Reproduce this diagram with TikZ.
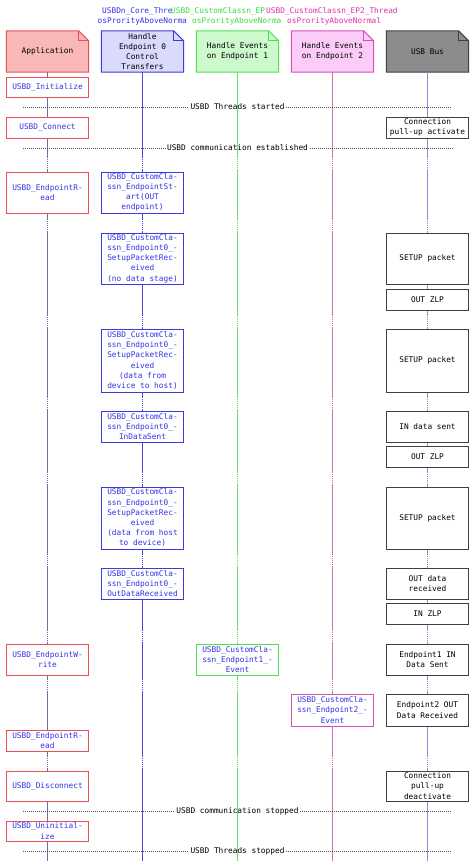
\documentclass[tikz,border=0pt]{standalone}
\usepackage{fontspec}
\newfontfamily\mscfont{DejaVu Sans Mono}
\usetikzlibrary{calc}
\pgfdeclarelayer{background}
\pgfsetlayers{background,main}
\definecolor{appline}{RGB}{230,80,90}
\definecolor{appfill}{RGB}{249,183,183}
\definecolor{ezline}{RGB}{60,60,220}
\definecolor{ezfill}{RGB}{218,218,252}
\definecolor{eoline}{RGB}{80,225,80}
\definecolor{eofill}{RGB}{204,250,204}
\definecolor{etline}{RGB}{215,80,180}
\definecolor{etfill}{RGB}{252,204,248}
\definecolor{usbline}{RGB}{64,64,64}
\definecolor{usbfill}{RGB}{140,140,140}
\definecolor{llapp}{RGB}{125,105,160}
\definecolor{llez}{RGB}{70,70,215}
\definecolor{lleo}{RGB}{100,225,100}
\definecolor{llet}{RGB}{210,110,175}
\definecolor{llusb}{RGB}{160,130,210}
\definecolor{evtext}{RGB}{50,50,230}
\definecolor{ttlblue}{RGB}{50,50,235}
\definecolor{ttlgreen}{RGB}{60,220,60}
\definecolor{ttlmag}{RGB}{220,50,170}
\definecolor{divline}{RGB}{80,80,80}
\newcommand\notebg[3]{%
  \filldraw[draw=#2, fill=#3, line width=1pt] (#1.north west) -- ($(#1.north east)+(-10,0)$) -- ($(#1.north east)+(0,10)$) -- (#1.south east) -- (#1.south west) -- cycle;
  \draw[#2, line width=0.8pt] ($(#1.north east)+(-10,0)$) -- ++(0,10) -- ++(10,0);}
\begin{document}
\begin{tikzpicture}[x=1pt,y=-1pt,
  every node/.style={font=\mscfont\fontsize{7.8}{10.2}\selectfont, inner sep=0pt},
  entity/.style={minimum width=82pt, minimum height=41pt, align=center},
  evbox/.style={draw=#1, fill=white, line width=0.9pt, minimum width=82pt, align=center, text=evtext},
  busbox/.style={draw=usbline, fill=white, line width=0.9pt, minimum width=82pt, align=center, text=black},
  lifeline/.style={line width=1pt},
  gapline/.style={line width=1pt, dash pattern=on 1pt off 1pt},
  divider/.style={draw=divline, line width=0.8pt, dash pattern=on 1pt off 1pt},
  divlabel/.style={inner xsep=1.5pt, text=black},
  title/.style={anchor=west}
]
\useasboundingbox (0,0) rectangle (474,861);
% titles
\node[title, text=ttlblue] (t1) at (102,11) {USBDn\_Core\_Thre};
\node[title, text=ttlgreen] (t2) at (171,11) {USBD\_CustomClassn\_EP};
\node[title, text=ttlmag] (t3) at (266,11) {USBD\_CustomClassn\_EP2\_Thread};
\node[title, text=ttlblue] (t4) at (97.5,21) {osProrityAboveNorma};
\node[title, text=ttlgreen] (t5) at (192,21) {osProrityAboveNorma};
\node[title, text=ttlmag] (t6) at (287,21) {osProrityAboveNormal};
% entities
\node[entity] (hA) at (47.5,51.5) {Application};
\node[entity] (hB) at (142.5,51.5) {Handle\\Endpoint 0\\Control\\Transfers};
\node[entity] (hC) at (237.5,51.5) {Handle Events\\on Endpoint 1};
\node[entity] (hD) at (332.5,51.5) {Handle Events\\on Endpoint 2};
\node[entity] (hE) at (427.5,51.5) {USB Bus};
\coordinate (bA) at (47.5,861);
\coordinate (bB) at (142.5,861);
\coordinate (bC) at (237.5,861);
\coordinate (bD) at (332.5,861);
\coordinate (bE) at (427.5,861);
\begin{pgfonlayer}{background}
  \notebg{hA}{appline}{appfill}
  \notebg{hB}{ezline}{ezfill}
  \notebg{hC}{eoline}{eofill}
  \notebg{hD}{etline}{etfill}
  \notebg{hE}{usbline}{usbfill}
  \draw[lifeline, llapp] (hA.south) -- (bA);
  \draw[lifeline, llez] (hB.south) -- (bB);
  \draw[lifeline, lleo] (hC.south) -- (bC);
  \draw[lifeline, llet] (hD.south) -- (bD);
  \draw[lifeline, llusb] (hE.south) -- (bE);
  \foreach \ya/\yb in {157/170, 219/232, 315/328, 397/410, 472/485, 554/567, 630/643, 679/692, 756/769} {
    \fill[white] (2,\ya) rectangle (472,\yb);
    \foreach \xx/\cc in {47.5/llapp, 142.5/llez, 237.5/lleo, 332.5/llet, 427.5/llusb}
      \draw[gapline, \cc] (\xx,\ya) -- (\xx,\yb);
  }
\end{pgfonlayer}
% rows
\node[evbox=appline, minimum height=20pt] (a1) at (47.5,87) {USBD\_Initialize};
\node[divlabel] (d1) at (237.5,107) {USBD Threads started};
\coordinate (d1l) at (23,107); \coordinate (d1r) at (452,107);
\draw[divider] (d1l) -- (d1.west); \draw[divider] (d1.east) -- (d1r);
\node[evbox=appline, minimum height=21pt] (a2) at (47.5,127.5) {USBD\_Connect};
\node[busbox, minimum height=21pt] (u1) at (427.5,127.5) {Connection\\pull-up activate};
\node[divlabel] (d2) at (237.5,148) {USBD communication established};
\coordinate (d2l) at (23,148); \coordinate (d2r) at (452,148);
\draw[divider] (d2l) -- (d2.west); \draw[divider] (d2.east) -- (d2r);
\node[evbox=appline, minimum height=41pt] (a3) at (47.5,192.5) {USBD\_EndpointR-\\ead};
\node[evbox=ezline, minimum height=41pt] (e1) at (142.5,192.5) {USBD\_CustomCla-\\ssn\_EndpointSt-\\art(OUT\\endpoint)};
\node[evbox=ezline, minimum height=51pt] (e2) at (142.5,258.5) {USBD\_CustomCla-\\ssn\_Endpoint0\_-\\SetupPacketRec-\\eived\\(no data stage)};
\node[busbox, minimum height=51pt] (u2) at (427.5,258.5) {SETUP packet};
\node[busbox, minimum height=21pt] (u3) at (427.5,299.5) {OUT ZLP};
\node[evbox=ezline, minimum height=63pt] (e3) at (142.5,360.5) {USBD\_CustomCla-\\ssn\_Endpoint0\_-\\SetupPacketRec-\\eived\\(data from\\device to host)};
\node[busbox, minimum height=63pt] (u4) at (427.5,360.5) {SETUP packet};
\node[evbox=ezline, minimum height=31pt] (e4) at (142.5,426.5) {USBD\_CustomCla-\\ssn\_Endpoint0\_-\\InDataSent};
\node[busbox, minimum height=31pt] (u5) at (427.5,426.5) {IN data sent};
\node[busbox, minimum height=21pt] (u6) at (427.5,456.5) {OUT ZLP};
\node[evbox=ezline, minimum height=62pt] (e5) at (142.5,518) {USBD\_CustomCla-\\ssn\_Endpoint0\_-\\SetupPacketRec-\\eived\\(data from host\\to device)};
\node[busbox, minimum height=62pt] (u7) at (427.5,518) {SETUP packet};
\node[evbox=ezline, minimum height=31pt] (e6) at (142.5,583.5) {USBD\_CustomCla-\\ssn\_Endpoint0\_-\\OutDataReceived};
\node[busbox, minimum height=31pt] (u8) at (427.5,583.5) {OUT data\\received};
\node[busbox, minimum height=21pt] (u9) at (427.5,613.5) {IN ZLP};
\node[evbox=appline, minimum height=31pt] (a4) at (47.5,659.5) {USBD\_EndpointW-\\rite};
\node[evbox=eoline, minimum height=31pt] (g1) at (237.5,659.5) {USBD\_CustomCla-\\ssn\_Endpoint1\_-\\Event};
\node[busbox, minimum height=31pt] (u10) at (427.5,659.5) {Endpoint1 IN\\Data Sent};
\node[evbox=etline, minimum height=32pt] (p1) at (332.5,710) {USBD\_CustomCla-\\ssn\_Endpoint2\_-\\Event};
\node[busbox, minimum height=32pt] (u11) at (427.5,710) {Endpoint2 OUT\\Data Received};
\node[evbox=appline, minimum height=21pt] (a5) at (47.5,740.5) {USBD\_EndpointR-\\ead};
\node[evbox=appline, minimum height=30pt] (a6) at (47.5,786) {USBD\_Disconnect};
\node[busbox, minimum height=30pt] (u12) at (427.5,786) {Connection\\pull-up\\deactivate};
\node[divlabel] (d3) at (237.5,811) {USBD communication stopped};
\coordinate (d3l) at (23,811); \coordinate (d3r) at (452,811);
\draw[divider] (d3l) -- (d3.west); \draw[divider] (d3.east) -- (d3r);
\node[evbox=appline, minimum height=20pt] (a7) at (47.5,831) {USBD\_Uninitial-\\ize};
\node[divlabel] (d4) at (237.5,851) {USBD Threads stopped};
\coordinate (d4l) at (23,851); \coordinate (d4r) at (452,851);
\draw[divider] (d4l) -- (d4.west); \draw[divider] (d4.east) -- (d4r);
\end{tikzpicture}
\end{document}
